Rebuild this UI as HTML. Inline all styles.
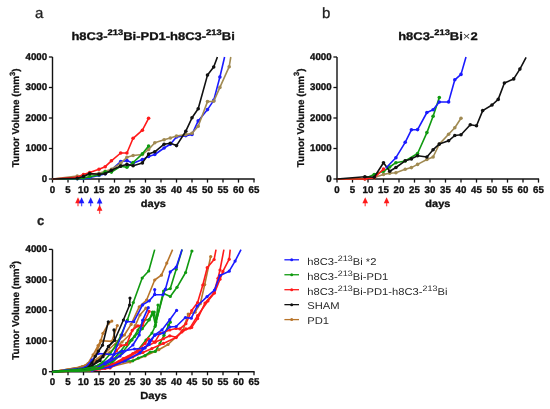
<!DOCTYPE html>
<html><head><meta charset="utf-8"><style>
html,body{margin:0;padding:0;background:#fff;}
body{width:550px;height:409px;overflow:hidden;position:relative;}
svg{position:absolute;left:0;top:0;}
text{text-rendering:geometricPrecision;}
.tl{font-family:"Liberation Sans", Arial, sans-serif;font-weight:bold;font-size:9.7px;fill:#111;stroke:#111;stroke-width:0.35px;}
.ttl{font-family:"Liberation Sans", Arial, sans-serif;font-weight:bold;font-size:10.2px;fill:#111;stroke:#111;stroke-width:0.3px;}
.ax{font-family:"Liberation Sans", Arial, sans-serif;font-weight:bold;font-size:9.9px;fill:#111;stroke:#111;stroke-width:0.25px;}
.pl{font-family:"Liberation Sans",Arial,sans-serif;font-size:15px;fill:#222;stroke:#222;stroke-width:0.3px;}
.lg{font-family:"Liberation Sans", Arial, sans-serif;font-size:9.9px;fill:#2a2a2a;}
</style></head><body>
<svg width="550" height="409" viewBox="0 0 550 409">
<text x="35" y="18" class="pl">a</text>
<text x="322" y="18" class="pl">b</text>
<text x="37" y="225.4" class="pl" style="font-size:13px;font-weight:bold">c</text>
<text transform="translate(153.1,39.6) scale(1.16,1)" x="0" y="0" text-anchor="middle" class="ttl" style="font-size:11.2px">h8C3-<tspan dy="-4.2" font-size="8.1">213</tspan><tspan dy="4.2">Bi-PD1-h8C3-</tspan><tspan dy="-4.2" font-size="8.1">213</tspan><tspan dy="4.2">Bi</tspan></text>
<text transform="translate(437.9,39.6) scale(1.16,1)" x="0" y="0" text-anchor="middle" class="ttl" style="font-size:11.2px">h8C3-<tspan dy="-4.2" font-size="8.1">213</tspan><tspan dy="4.2">Bi</tspan><tspan font-weight="normal" stroke-width="0" fill="#333">×</tspan>2</text>
<text transform="translate(19.2,117.8) rotate(-90)" text-anchor="middle" class="ax">Tumor Volume (mm<tspan dy="-4.6" font-size="7.6">3</tspan><tspan dy="4.6">)</tspan></text>
<text transform="translate(303.7,117.8) rotate(-90)" text-anchor="middle" class="ax">Tumor Volume (mm<tspan dy="-4.6" font-size="7.6">3</tspan><tspan dy="4.6">)</tspan></text>
<text transform="translate(19.2,310.3) rotate(-90)" text-anchor="middle" class="ax">Tumor Volume (mm<tspan dy="-4.6" font-size="7.6">3</tspan><tspan dy="4.6">)</tspan></text>
<text transform="translate(153.4,206.9) scale(1.08,1)" text-anchor="middle" class="ttl">days</text>
<text transform="translate(437.9,206.9) scale(1.08,1)" text-anchor="middle" class="ttl">days</text>
<text transform="translate(153.6,399.1) scale(1.1,1)" text-anchor="middle" class="ttl">Days</text>
<line x1="52.5" y1="57.0" x2="52.5" y2="179.7" stroke="#111" stroke-width="1.4"/>
<line x1="51.8" y1="179.0" x2="254.6" y2="179.0" stroke="#111" stroke-width="1.4"/>
<line x1="48.9" y1="179.00" x2="52.5" y2="179.00" stroke="#111" stroke-width="1.3"/>
<text x="47.1" y="181.90" text-anchor="end" class="tl">0</text>
<line x1="48.9" y1="148.50" x2="52.5" y2="148.50" stroke="#111" stroke-width="1.3"/>
<text x="47.1" y="151.40" text-anchor="end" class="tl">1000</text>
<line x1="48.9" y1="118.00" x2="52.5" y2="118.00" stroke="#111" stroke-width="1.3"/>
<text x="47.1" y="120.90" text-anchor="end" class="tl">2000</text>
<line x1="48.9" y1="87.50" x2="52.5" y2="87.50" stroke="#111" stroke-width="1.3"/>
<text x="47.1" y="90.40" text-anchor="end" class="tl">3000</text>
<line x1="48.9" y1="57.00" x2="52.5" y2="57.00" stroke="#111" stroke-width="1.3"/>
<text x="47.1" y="59.90" text-anchor="end" class="tl">4000</text>
<line x1="52.50" y1="179.0" x2="52.50" y2="182.6" stroke="#111" stroke-width="1.3"/>
<text x="52.50" y="192.70" text-anchor="middle" class="tl">0</text>
<line x1="68.00" y1="179.0" x2="68.00" y2="182.6" stroke="#111" stroke-width="1.3"/>
<text x="68.00" y="192.70" text-anchor="middle" class="tl">5</text>
<line x1="83.50" y1="179.0" x2="83.50" y2="182.6" stroke="#111" stroke-width="1.3"/>
<text x="83.50" y="192.70" text-anchor="middle" class="tl">10</text>
<line x1="99.00" y1="179.0" x2="99.00" y2="182.6" stroke="#111" stroke-width="1.3"/>
<text x="99.00" y="192.70" text-anchor="middle" class="tl">15</text>
<line x1="114.50" y1="179.0" x2="114.50" y2="182.6" stroke="#111" stroke-width="1.3"/>
<text x="114.50" y="192.70" text-anchor="middle" class="tl">20</text>
<line x1="130.00" y1="179.0" x2="130.00" y2="182.6" stroke="#111" stroke-width="1.3"/>
<text x="130.00" y="192.70" text-anchor="middle" class="tl">25</text>
<line x1="145.50" y1="179.0" x2="145.50" y2="182.6" stroke="#111" stroke-width="1.3"/>
<text x="145.50" y="192.70" text-anchor="middle" class="tl">30</text>
<line x1="161.00" y1="179.0" x2="161.00" y2="182.6" stroke="#111" stroke-width="1.3"/>
<text x="161.00" y="192.70" text-anchor="middle" class="tl">35</text>
<line x1="176.50" y1="179.0" x2="176.50" y2="182.6" stroke="#111" stroke-width="1.3"/>
<text x="176.50" y="192.70" text-anchor="middle" class="tl">40</text>
<line x1="192.00" y1="179.0" x2="192.00" y2="182.6" stroke="#111" stroke-width="1.3"/>
<text x="192.00" y="192.70" text-anchor="middle" class="tl">45</text>
<line x1="207.50" y1="179.0" x2="207.50" y2="182.6" stroke="#111" stroke-width="1.3"/>
<text x="207.50" y="192.70" text-anchor="middle" class="tl">50</text>
<line x1="223.00" y1="179.0" x2="223.00" y2="182.6" stroke="#111" stroke-width="1.3"/>
<text x="223.00" y="192.70" text-anchor="middle" class="tl">55</text>
<line x1="238.50" y1="179.0" x2="238.50" y2="182.6" stroke="#111" stroke-width="1.3"/>
<text x="238.50" y="192.70" text-anchor="middle" class="tl">60</text>
<line x1="254.00" y1="179.0" x2="254.00" y2="182.6" stroke="#111" stroke-width="1.3"/>
<text x="254.00" y="192.70" text-anchor="middle" class="tl">65</text>
<polyline points="52.5,179.0 77.3,178.8 83.5,178.5 89.7,177.5 99.0,175.5 105.2,173.8 111.4,169.8 120.7,161.6 126.9,160.6 133.1,163.2 142.4,159.6 148.6,156.4 154.8,154.5 164.1,148.0 170.3,144.2 176.5,136.9 185.8,135.6 192.0,134.4 198.2,120.9 207.5,109.6 213.7,100.4 219.9,77.0 224.6,57.0" fill="none" stroke="#1a1aff" stroke-width="1.6" stroke-linejoin="round"/>
<circle cx="77.3" cy="178.8" r="1.8" fill="#1a1aff"/>
<circle cx="83.5" cy="178.5" r="1.8" fill="#1a1aff"/>
<circle cx="89.7" cy="177.5" r="1.8" fill="#1a1aff"/>
<circle cx="99.0" cy="175.5" r="1.8" fill="#1a1aff"/>
<circle cx="105.2" cy="173.8" r="1.8" fill="#1a1aff"/>
<circle cx="111.4" cy="169.8" r="1.8" fill="#1a1aff"/>
<circle cx="120.7" cy="161.6" r="1.8" fill="#1a1aff"/>
<circle cx="126.9" cy="160.6" r="1.8" fill="#1a1aff"/>
<circle cx="133.1" cy="163.2" r="1.8" fill="#1a1aff"/>
<circle cx="142.4" cy="159.6" r="1.8" fill="#1a1aff"/>
<circle cx="148.6" cy="156.4" r="1.8" fill="#1a1aff"/>
<circle cx="154.8" cy="154.5" r="1.8" fill="#1a1aff"/>
<circle cx="164.1" cy="148.0" r="1.8" fill="#1a1aff"/>
<circle cx="170.3" cy="144.2" r="1.8" fill="#1a1aff"/>
<circle cx="176.5" cy="136.9" r="1.8" fill="#1a1aff"/>
<circle cx="185.8" cy="135.6" r="1.8" fill="#1a1aff"/>
<circle cx="192.0" cy="134.4" r="1.8" fill="#1a1aff"/>
<circle cx="198.2" cy="120.9" r="1.8" fill="#1a1aff"/>
<circle cx="207.5" cy="109.6" r="1.8" fill="#1a1aff"/>
<circle cx="213.7" cy="100.4" r="1.8" fill="#1a1aff"/>
<circle cx="219.9" cy="77.0" r="1.8" fill="#1a1aff"/>
<polyline points="52.5,179.0 77.3,176.1 83.5,175.4 89.7,174.4 99.0,173.2 105.2,171.2 111.4,169.2 120.7,163.4 126.9,157.3 133.1,155.5 142.4,154.5 148.6,149.5 154.8,142.7 164.1,139.7 170.3,138.0 176.5,136.0 185.8,134.6 192.0,133.2 198.2,126.3 207.5,101.6 213.7,101.3 219.9,87.4 229.2,66.7 230.8,57.0" fill="none" stroke="#a08a52" stroke-width="1.6" stroke-linejoin="round"/>
<circle cx="77.3" cy="176.1" r="1.8" fill="#a08a52"/>
<circle cx="83.5" cy="175.4" r="1.8" fill="#a08a52"/>
<circle cx="89.7" cy="174.4" r="1.8" fill="#a08a52"/>
<circle cx="99.0" cy="173.2" r="1.8" fill="#a08a52"/>
<circle cx="105.2" cy="171.2" r="1.8" fill="#a08a52"/>
<circle cx="111.4" cy="169.2" r="1.8" fill="#a08a52"/>
<circle cx="120.7" cy="163.4" r="1.8" fill="#a08a52"/>
<circle cx="126.9" cy="157.3" r="1.8" fill="#a08a52"/>
<circle cx="133.1" cy="155.5" r="1.8" fill="#a08a52"/>
<circle cx="142.4" cy="154.5" r="1.8" fill="#a08a52"/>
<circle cx="148.6" cy="149.5" r="1.8" fill="#a08a52"/>
<circle cx="154.8" cy="142.7" r="1.8" fill="#a08a52"/>
<circle cx="164.1" cy="139.7" r="1.8" fill="#a08a52"/>
<circle cx="170.3" cy="138.0" r="1.8" fill="#a08a52"/>
<circle cx="176.5" cy="136.0" r="1.8" fill="#a08a52"/>
<circle cx="185.8" cy="134.6" r="1.8" fill="#a08a52"/>
<circle cx="192.0" cy="133.2" r="1.8" fill="#a08a52"/>
<circle cx="198.2" cy="126.3" r="1.8" fill="#a08a52"/>
<circle cx="207.5" cy="101.6" r="1.8" fill="#a08a52"/>
<circle cx="213.7" cy="101.3" r="1.8" fill="#a08a52"/>
<circle cx="219.9" cy="87.4" r="1.8" fill="#a08a52"/>
<circle cx="229.2" cy="66.7" r="1.8" fill="#a08a52"/>
<polyline points="52.5,179.0 77.3,178.6 83.5,178.0 89.7,176.6 99.0,175.0 105.2,171.9 111.4,172.1 120.7,166.2 126.9,167.3 133.1,162.5 142.4,153.8 148.6,146.1" fill="none" stroke="#109a10" stroke-width="1.6" stroke-linejoin="round"/>
<circle cx="77.3" cy="178.6" r="1.8" fill="#109a10"/>
<circle cx="83.5" cy="178.0" r="1.8" fill="#109a10"/>
<circle cx="89.7" cy="176.6" r="1.8" fill="#109a10"/>
<circle cx="99.0" cy="175.0" r="1.8" fill="#109a10"/>
<circle cx="105.2" cy="171.9" r="1.8" fill="#109a10"/>
<circle cx="111.4" cy="172.1" r="1.8" fill="#109a10"/>
<circle cx="120.7" cy="166.2" r="1.8" fill="#109a10"/>
<circle cx="126.9" cy="167.3" r="1.8" fill="#109a10"/>
<circle cx="133.1" cy="162.5" r="1.8" fill="#109a10"/>
<circle cx="142.4" cy="153.8" r="1.8" fill="#109a10"/>
<circle cx="148.6" cy="146.1" r="1.8" fill="#109a10"/>
<polyline points="52.5,179.0 77.3,177.4 83.5,174.5 89.7,172.6 99.0,169.3 105.2,166.7 111.4,160.8 120.7,153.0 126.9,153.0 133.1,138.3 142.4,130.2 148.6,118.3" fill="none" stroke="#ff1a1a" stroke-width="1.6" stroke-linejoin="round"/>
<circle cx="77.3" cy="177.4" r="1.8" fill="#ff1a1a"/>
<circle cx="83.5" cy="174.5" r="1.8" fill="#ff1a1a"/>
<circle cx="89.7" cy="172.6" r="1.8" fill="#ff1a1a"/>
<circle cx="99.0" cy="169.3" r="1.8" fill="#ff1a1a"/>
<circle cx="105.2" cy="166.7" r="1.8" fill="#ff1a1a"/>
<circle cx="111.4" cy="160.8" r="1.8" fill="#ff1a1a"/>
<circle cx="120.7" cy="153.0" r="1.8" fill="#ff1a1a"/>
<circle cx="126.9" cy="153.0" r="1.8" fill="#ff1a1a"/>
<circle cx="133.1" cy="138.3" r="1.8" fill="#ff1a1a"/>
<circle cx="142.4" cy="130.2" r="1.8" fill="#ff1a1a"/>
<circle cx="148.6" cy="118.3" r="1.8" fill="#ff1a1a"/>
<polyline points="52.5,179.0 77.3,178.2 83.5,176.4 89.7,173.6 99.0,174.2 105.2,173.7 111.4,170.3 120.7,166.1 126.9,164.4 133.1,165.7 142.4,162.9 148.6,154.1 154.8,151.8 164.1,144.2 170.3,143.3 176.5,145.6 185.8,131.2 192.0,117.8 198.2,108.7 207.5,75.1 213.7,67.0 217.4,57.0" fill="none" stroke="#111" stroke-width="1.6" stroke-linejoin="round"/>
<circle cx="77.3" cy="178.2" r="1.8" fill="#111"/>
<circle cx="83.5" cy="176.4" r="1.8" fill="#111"/>
<circle cx="89.7" cy="173.6" r="1.8" fill="#111"/>
<circle cx="99.0" cy="174.2" r="1.8" fill="#111"/>
<circle cx="105.2" cy="173.7" r="1.8" fill="#111"/>
<circle cx="111.4" cy="170.3" r="1.8" fill="#111"/>
<circle cx="120.7" cy="166.1" r="1.8" fill="#111"/>
<circle cx="126.9" cy="164.4" r="1.8" fill="#111"/>
<circle cx="133.1" cy="165.7" r="1.8" fill="#111"/>
<circle cx="142.4" cy="162.9" r="1.8" fill="#111"/>
<circle cx="148.6" cy="154.1" r="1.8" fill="#111"/>
<circle cx="154.8" cy="151.8" r="1.8" fill="#111"/>
<circle cx="164.1" cy="144.2" r="1.8" fill="#111"/>
<circle cx="170.3" cy="143.3" r="1.8" fill="#111"/>
<circle cx="176.5" cy="145.6" r="1.8" fill="#111"/>
<circle cx="185.8" cy="131.2" r="1.8" fill="#111"/>
<circle cx="192.0" cy="117.8" r="1.8" fill="#111"/>
<circle cx="198.2" cy="108.7" r="1.8" fill="#111"/>
<circle cx="207.5" cy="75.1" r="1.8" fill="#111"/>
<circle cx="213.7" cy="67.0" r="1.8" fill="#111"/>
<path d="M75.2,203.3 L78.0,197.3 L80.8,203.3 Z" fill="#ff1a1a"/>
<line x1="78.0" y1="202.3" x2="78.0" y2="206.3" stroke="#ff1a1a" stroke-width="1.3" opacity="0.75"/>
<path d="M78.8,203.3 L81.6,197.3 L84.4,203.3 Z" fill="#1a1aff"/>
<line x1="81.6" y1="202.3" x2="81.6" y2="206.3" stroke="#1a1aff" stroke-width="1.3" opacity="0.75"/>
<path d="M87.9,203.3 L90.7,197.3 L93.5,203.3 Z" fill="#1a1aff"/>
<line x1="90.7" y1="202.3" x2="90.7" y2="206.3" stroke="#1a1aff" stroke-width="1.3" opacity="0.75"/>
<path d="M96.8,203.5 L99.6,197.5 L102.4,203.5 Z" fill="#1a1aff"/>
<line x1="99.6" y1="202.5" x2="99.6" y2="206.5" stroke="#1a1aff" stroke-width="1.3" opacity="0.75"/>
<path d="M96.8,210.8 L99.6,204.8 L102.4,210.8 Z" fill="#ff1a1a"/>
<line x1="99.6" y1="209.8" x2="99.6" y2="213.8" stroke="#ff1a1a" stroke-width="1.3" opacity="0.75"/>
<line x1="337.0" y1="57.0" x2="337.0" y2="179.7" stroke="#111" stroke-width="1.4"/>
<line x1="336.3" y1="179.0" x2="539.1" y2="179.0" stroke="#111" stroke-width="1.4"/>
<line x1="333.4" y1="179.00" x2="337.0" y2="179.00" stroke="#111" stroke-width="1.3"/>
<text x="331.6" y="181.90" text-anchor="end" class="tl">0</text>
<line x1="333.4" y1="148.50" x2="337.0" y2="148.50" stroke="#111" stroke-width="1.3"/>
<text x="331.6" y="151.40" text-anchor="end" class="tl">1000</text>
<line x1="333.4" y1="118.00" x2="337.0" y2="118.00" stroke="#111" stroke-width="1.3"/>
<text x="331.6" y="120.90" text-anchor="end" class="tl">2000</text>
<line x1="333.4" y1="87.50" x2="337.0" y2="87.50" stroke="#111" stroke-width="1.3"/>
<text x="331.6" y="90.40" text-anchor="end" class="tl">3000</text>
<line x1="333.4" y1="57.00" x2="337.0" y2="57.00" stroke="#111" stroke-width="1.3"/>
<text x="331.6" y="59.90" text-anchor="end" class="tl">4000</text>
<line x1="337.00" y1="179.0" x2="337.00" y2="182.6" stroke="#111" stroke-width="1.3"/>
<text x="337.00" y="192.70" text-anchor="middle" class="tl">0</text>
<line x1="352.50" y1="179.0" x2="352.50" y2="182.6" stroke="#111" stroke-width="1.3"/>
<text x="352.50" y="192.70" text-anchor="middle" class="tl">5</text>
<line x1="368.00" y1="179.0" x2="368.00" y2="182.6" stroke="#111" stroke-width="1.3"/>
<text x="368.00" y="192.70" text-anchor="middle" class="tl">10</text>
<line x1="383.50" y1="179.0" x2="383.50" y2="182.6" stroke="#111" stroke-width="1.3"/>
<text x="383.50" y="192.70" text-anchor="middle" class="tl">15</text>
<line x1="399.00" y1="179.0" x2="399.00" y2="182.6" stroke="#111" stroke-width="1.3"/>
<text x="399.00" y="192.70" text-anchor="middle" class="tl">20</text>
<line x1="414.50" y1="179.0" x2="414.50" y2="182.6" stroke="#111" stroke-width="1.3"/>
<text x="414.50" y="192.70" text-anchor="middle" class="tl">25</text>
<line x1="430.00" y1="179.0" x2="430.00" y2="182.6" stroke="#111" stroke-width="1.3"/>
<text x="430.00" y="192.70" text-anchor="middle" class="tl">30</text>
<line x1="445.50" y1="179.0" x2="445.50" y2="182.6" stroke="#111" stroke-width="1.3"/>
<text x="445.50" y="192.70" text-anchor="middle" class="tl">35</text>
<line x1="461.00" y1="179.0" x2="461.00" y2="182.6" stroke="#111" stroke-width="1.3"/>
<text x="461.00" y="192.70" text-anchor="middle" class="tl">40</text>
<line x1="476.50" y1="179.0" x2="476.50" y2="182.6" stroke="#111" stroke-width="1.3"/>
<text x="476.50" y="192.70" text-anchor="middle" class="tl">45</text>
<line x1="492.00" y1="179.0" x2="492.00" y2="182.6" stroke="#111" stroke-width="1.3"/>
<text x="492.00" y="192.70" text-anchor="middle" class="tl">50</text>
<line x1="507.50" y1="179.0" x2="507.50" y2="182.6" stroke="#111" stroke-width="1.3"/>
<text x="507.50" y="192.70" text-anchor="middle" class="tl">55</text>
<line x1="523.00" y1="179.0" x2="523.00" y2="182.6" stroke="#111" stroke-width="1.3"/>
<text x="523.00" y="192.70" text-anchor="middle" class="tl">60</text>
<line x1="538.50" y1="179.0" x2="538.50" y2="182.6" stroke="#111" stroke-width="1.3"/>
<text x="538.50" y="192.70" text-anchor="middle" class="tl">65</text>
<polyline points="337.0,179.0 364.9,178.6 374.2,177.6 383.5,174.4 389.7,173.3 395.9,172.7 405.2,169.3 411.4,167.6 417.6,164.4 426.9,159.5 433.1,157.0 439.3,144.1 448.6,134.3 454.8,127.7 461.0,118.2" fill="none" stroke="#a08a52" stroke-width="1.6" stroke-linejoin="round"/>
<circle cx="364.9" cy="178.6" r="1.8" fill="#a08a52"/>
<circle cx="374.2" cy="177.6" r="1.8" fill="#a08a52"/>
<circle cx="383.5" cy="174.4" r="1.8" fill="#a08a52"/>
<circle cx="389.7" cy="173.3" r="1.8" fill="#a08a52"/>
<circle cx="395.9" cy="172.7" r="1.8" fill="#a08a52"/>
<circle cx="405.2" cy="169.3" r="1.8" fill="#a08a52"/>
<circle cx="411.4" cy="167.6" r="1.8" fill="#a08a52"/>
<circle cx="417.6" cy="164.4" r="1.8" fill="#a08a52"/>
<circle cx="426.9" cy="159.5" r="1.8" fill="#a08a52"/>
<circle cx="433.1" cy="157.0" r="1.8" fill="#a08a52"/>
<circle cx="439.3" cy="144.1" r="1.8" fill="#a08a52"/>
<circle cx="448.6" cy="134.3" r="1.8" fill="#a08a52"/>
<circle cx="454.8" cy="127.7" r="1.8" fill="#a08a52"/>
<circle cx="461.0" cy="118.2" r="1.8" fill="#a08a52"/>
<polyline points="337.0,179.0 364.9,178.6 374.2,174.6 383.5,171.3 389.7,167.0 395.9,162.7 405.2,161.0 417.6,153.5 426.9,132.6 433.1,116.2 439.3,97.6" fill="none" stroke="#109a10" stroke-width="1.6" stroke-linejoin="round"/>
<circle cx="364.9" cy="178.6" r="1.8" fill="#109a10"/>
<circle cx="374.2" cy="174.6" r="1.8" fill="#109a10"/>
<circle cx="383.5" cy="171.3" r="1.8" fill="#109a10"/>
<circle cx="389.7" cy="167.0" r="1.8" fill="#109a10"/>
<circle cx="395.9" cy="162.7" r="1.8" fill="#109a10"/>
<circle cx="405.2" cy="161.0" r="1.8" fill="#109a10"/>
<circle cx="417.6" cy="153.5" r="1.8" fill="#109a10"/>
<circle cx="426.9" cy="132.6" r="1.8" fill="#109a10"/>
<circle cx="433.1" cy="116.2" r="1.8" fill="#109a10"/>
<circle cx="439.3" cy="97.6" r="1.8" fill="#109a10"/>
<polyline points="337.0,179.0 364.9,178.9 374.2,177.7 383.5,169.1" fill="none" stroke="#ff1a1a" stroke-width="1.6" stroke-linejoin="round"/>
<circle cx="364.9" cy="178.9" r="1.8" fill="#ff1a1a"/>
<circle cx="374.2" cy="177.7" r="1.8" fill="#ff1a1a"/>
<circle cx="383.5" cy="169.1" r="1.8" fill="#ff1a1a"/>
<polyline points="337.0,179.0 364.9,176.8 374.2,177.3 383.5,162.7 389.7,171.3 395.9,167.5 405.2,160.8 411.4,158.9 417.6,155.8 426.9,157.0 433.1,149.7 439.3,144.1 448.6,140.8 454.8,135.5 461.0,134.7 470.3,124.7 476.5,125.8 482.7,110.6 492.0,105.0 498.2,99.4 504.4,83.0 513.7,78.9 519.9,69.1 526.1,57.3" fill="none" stroke="#111" stroke-width="1.6" stroke-linejoin="round"/>
<circle cx="364.9" cy="176.8" r="1.8" fill="#111"/>
<circle cx="374.2" cy="177.3" r="1.8" fill="#111"/>
<circle cx="383.5" cy="162.7" r="1.8" fill="#111"/>
<circle cx="389.7" cy="171.3" r="1.8" fill="#111"/>
<circle cx="395.9" cy="167.5" r="1.8" fill="#111"/>
<circle cx="405.2" cy="160.8" r="1.8" fill="#111"/>
<circle cx="411.4" cy="158.9" r="1.8" fill="#111"/>
<circle cx="417.6" cy="155.8" r="1.8" fill="#111"/>
<circle cx="426.9" cy="157.0" r="1.8" fill="#111"/>
<circle cx="433.1" cy="149.7" r="1.8" fill="#111"/>
<circle cx="439.3" cy="144.1" r="1.8" fill="#111"/>
<circle cx="448.6" cy="140.8" r="1.8" fill="#111"/>
<circle cx="454.8" cy="135.5" r="1.8" fill="#111"/>
<circle cx="461.0" cy="134.7" r="1.8" fill="#111"/>
<circle cx="470.3" cy="124.7" r="1.8" fill="#111"/>
<circle cx="476.5" cy="125.8" r="1.8" fill="#111"/>
<circle cx="482.7" cy="110.6" r="1.8" fill="#111"/>
<circle cx="492.0" cy="105.0" r="1.8" fill="#111"/>
<circle cx="498.2" cy="99.4" r="1.8" fill="#111"/>
<circle cx="504.4" cy="83.0" r="1.8" fill="#111"/>
<circle cx="513.7" cy="78.9" r="1.8" fill="#111"/>
<circle cx="519.9" cy="69.1" r="1.8" fill="#111"/>
<polyline points="385.7,168.3 395.9,157.7 405.2,142.3 411.4,129.8 417.6,129.6 426.9,112.5 433.1,109.8 439.3,102.0 448.6,101.9 454.8,79.8 461.0,74.4 466.0,57.0" fill="none" stroke="#1a1aff" stroke-width="1.6" stroke-linejoin="round"/>
<circle cx="395.9" cy="157.7" r="1.8" fill="#1a1aff"/>
<circle cx="405.2" cy="142.3" r="1.8" fill="#1a1aff"/>
<circle cx="411.4" cy="129.8" r="1.8" fill="#1a1aff"/>
<circle cx="417.6" cy="129.6" r="1.8" fill="#1a1aff"/>
<circle cx="426.9" cy="112.5" r="1.8" fill="#1a1aff"/>
<circle cx="433.1" cy="109.8" r="1.8" fill="#1a1aff"/>
<circle cx="439.3" cy="102.0" r="1.8" fill="#1a1aff"/>
<circle cx="448.6" cy="101.9" r="1.8" fill="#1a1aff"/>
<circle cx="454.8" cy="79.8" r="1.8" fill="#1a1aff"/>
<circle cx="461.0" cy="74.4" r="1.8" fill="#1a1aff"/>
<path d="M362.4,203.3 L365.2,197.3 L368.0,203.3 Z" fill="#ff1a1a"/>
<line x1="365.2" y1="202.3" x2="365.2" y2="206.3" stroke="#ff1a1a" stroke-width="1.3" opacity="0.75"/>
<path d="M383.8,203.3 L386.6,197.3 L389.4,203.3 Z" fill="#ff1a1a"/>
<line x1="386.6" y1="202.3" x2="386.6" y2="206.3" stroke="#ff1a1a" stroke-width="1.3" opacity="0.75"/>
<line x1="52.5" y1="249.4" x2="52.5" y2="372.4" stroke="#111" stroke-width="1.4"/>
<line x1="51.8" y1="371.7" x2="254.6" y2="371.7" stroke="#111" stroke-width="1.4"/>
<line x1="48.9" y1="371.70" x2="52.5" y2="371.70" stroke="#111" stroke-width="1.3"/>
<text x="47.1" y="374.60" text-anchor="end" class="tl">0</text>
<line x1="48.9" y1="341.12" x2="52.5" y2="341.12" stroke="#111" stroke-width="1.3"/>
<text x="47.1" y="344.02" text-anchor="end" class="tl">1000</text>
<line x1="48.9" y1="310.55" x2="52.5" y2="310.55" stroke="#111" stroke-width="1.3"/>
<text x="47.1" y="313.45" text-anchor="end" class="tl">2000</text>
<line x1="48.9" y1="279.98" x2="52.5" y2="279.98" stroke="#111" stroke-width="1.3"/>
<text x="47.1" y="282.88" text-anchor="end" class="tl">3000</text>
<line x1="48.9" y1="249.40" x2="52.5" y2="249.40" stroke="#111" stroke-width="1.3"/>
<text x="47.1" y="252.30" text-anchor="end" class="tl">4000</text>
<line x1="52.50" y1="371.7" x2="52.50" y2="375.3" stroke="#111" stroke-width="1.3"/>
<text x="52.50" y="385.40" text-anchor="middle" class="tl">0</text>
<line x1="68.00" y1="371.7" x2="68.00" y2="375.3" stroke="#111" stroke-width="1.3"/>
<text x="68.00" y="385.40" text-anchor="middle" class="tl">5</text>
<line x1="83.50" y1="371.7" x2="83.50" y2="375.3" stroke="#111" stroke-width="1.3"/>
<text x="83.50" y="385.40" text-anchor="middle" class="tl">10</text>
<line x1="99.00" y1="371.7" x2="99.00" y2="375.3" stroke="#111" stroke-width="1.3"/>
<text x="99.00" y="385.40" text-anchor="middle" class="tl">15</text>
<line x1="114.50" y1="371.7" x2="114.50" y2="375.3" stroke="#111" stroke-width="1.3"/>
<text x="114.50" y="385.40" text-anchor="middle" class="tl">20</text>
<line x1="130.00" y1="371.7" x2="130.00" y2="375.3" stroke="#111" stroke-width="1.3"/>
<text x="130.00" y="385.40" text-anchor="middle" class="tl">25</text>
<line x1="145.50" y1="371.7" x2="145.50" y2="375.3" stroke="#111" stroke-width="1.3"/>
<text x="145.50" y="385.40" text-anchor="middle" class="tl">30</text>
<line x1="161.00" y1="371.7" x2="161.00" y2="375.3" stroke="#111" stroke-width="1.3"/>
<text x="161.00" y="385.40" text-anchor="middle" class="tl">35</text>
<line x1="176.50" y1="371.7" x2="176.50" y2="375.3" stroke="#111" stroke-width="1.3"/>
<text x="176.50" y="385.40" text-anchor="middle" class="tl">40</text>
<line x1="192.00" y1="371.7" x2="192.00" y2="375.3" stroke="#111" stroke-width="1.3"/>
<text x="192.00" y="385.40" text-anchor="middle" class="tl">45</text>
<line x1="207.50" y1="371.7" x2="207.50" y2="375.3" stroke="#111" stroke-width="1.3"/>
<text x="207.50" y="385.40" text-anchor="middle" class="tl">50</text>
<line x1="223.00" y1="371.7" x2="223.00" y2="375.3" stroke="#111" stroke-width="1.3"/>
<text x="223.00" y="385.40" text-anchor="middle" class="tl">55</text>
<line x1="238.50" y1="371.7" x2="238.50" y2="375.3" stroke="#111" stroke-width="1.3"/>
<text x="238.50" y="385.40" text-anchor="middle" class="tl">60</text>
<line x1="254.00" y1="371.7" x2="254.00" y2="375.3" stroke="#111" stroke-width="1.3"/>
<text x="254.00" y="385.40" text-anchor="middle" class="tl">65</text>
<polyline points="52.5,371.7 80.0,367.4 92.0,362.4 105.0,353.0 118.0,341.0 124.4,335.0 131.1,324.4 139.2,306.9 146.6,300.0 154.7,280.0 161.4,275.2 166.8,263.1 172.6,249.6" fill="none" stroke="#b8752b" stroke-width="1.6" stroke-linejoin="round"/>
<circle cx="80.0" cy="367.4" r="1.6" fill="#b8752b"/>
<circle cx="92.0" cy="362.4" r="1.6" fill="#b8752b"/>
<circle cx="105.0" cy="353.0" r="1.6" fill="#b8752b"/>
<circle cx="118.0" cy="341.0" r="1.6" fill="#b8752b"/>
<circle cx="124.4" cy="335.0" r="1.6" fill="#b8752b"/>
<circle cx="131.1" cy="324.4" r="1.6" fill="#b8752b"/>
<circle cx="139.2" cy="306.9" r="1.6" fill="#b8752b"/>
<circle cx="146.6" cy="300.0" r="1.6" fill="#b8752b"/>
<circle cx="154.7" cy="280.0" r="1.6" fill="#b8752b"/>
<circle cx="161.4" cy="275.2" r="1.6" fill="#b8752b"/>
<circle cx="166.8" cy="263.1" r="1.6" fill="#b8752b"/>
<polyline points="52.5,371.7 82.0,366.7 95.0,361.3 110.0,352.0 122.0,342.0 130.5,334.0 135.2,325.7 139.9,315.0 145.9,308.2" fill="none" stroke="#b8752b" stroke-width="1.6" stroke-linejoin="round"/>
<circle cx="82.0" cy="366.7" r="1.6" fill="#b8752b"/>
<circle cx="95.0" cy="361.3" r="1.6" fill="#b8752b"/>
<circle cx="110.0" cy="352.0" r="1.6" fill="#b8752b"/>
<circle cx="122.0" cy="342.0" r="1.6" fill="#b8752b"/>
<circle cx="130.5" cy="334.0" r="1.6" fill="#b8752b"/>
<circle cx="135.2" cy="325.7" r="1.6" fill="#b8752b"/>
<circle cx="139.9" cy="315.0" r="1.6" fill="#b8752b"/>
<circle cx="145.9" cy="308.2" r="1.6" fill="#b8752b"/>
<polyline points="52.5,371.7 80.0,367.7 88.0,363.5 93.1,354.8 98.1,345.6 100.8,340.6 103.0,333.3 108.5,323.3 111.8,321.1" fill="none" stroke="#b8752b" stroke-width="1.6" stroke-linejoin="round"/>
<circle cx="80.0" cy="367.7" r="1.6" fill="#b8752b"/>
<circle cx="88.0" cy="363.5" r="1.6" fill="#b8752b"/>
<circle cx="93.1" cy="354.8" r="1.6" fill="#b8752b"/>
<circle cx="98.1" cy="345.6" r="1.6" fill="#b8752b"/>
<circle cx="100.8" cy="340.6" r="1.6" fill="#b8752b"/>
<circle cx="103.0" cy="333.3" r="1.6" fill="#b8752b"/>
<circle cx="108.5" cy="323.3" r="1.6" fill="#b8752b"/>
<circle cx="111.8" cy="321.1" r="1.6" fill="#b8752b"/>
<polyline points="52.5,371.7 85.0,366.9 93.0,361.0 97.0,350.6 101.4,340.7 111.8,341.4 117.3,325.5" fill="none" stroke="#b8752b" stroke-width="1.6" stroke-linejoin="round"/>
<circle cx="85.0" cy="366.9" r="1.6" fill="#b8752b"/>
<circle cx="93.0" cy="361.0" r="1.6" fill="#b8752b"/>
<circle cx="97.0" cy="350.6" r="1.6" fill="#b8752b"/>
<circle cx="101.4" cy="340.7" r="1.6" fill="#b8752b"/>
<circle cx="111.8" cy="341.4" r="1.6" fill="#b8752b"/>
<circle cx="117.3" cy="325.5" r="1.6" fill="#b8752b"/>
<polyline points="52.5,371.7 90.0,369.9 110.0,367.0 130.0,362.0 145.0,356.0 158.8,349.7 168.0,344.5 182.9,330.7 188.2,314.0 195.1,312.2 200.3,303.7 204.7,284.6 210.7,256.5" fill="none" stroke="#b8752b" stroke-width="1.6" stroke-linejoin="round"/>
<circle cx="90.0" cy="369.9" r="1.6" fill="#b8752b"/>
<circle cx="110.0" cy="367.0" r="1.6" fill="#b8752b"/>
<circle cx="130.0" cy="362.0" r="1.6" fill="#b8752b"/>
<circle cx="145.0" cy="356.0" r="1.6" fill="#b8752b"/>
<circle cx="158.8" cy="349.7" r="1.6" fill="#b8752b"/>
<circle cx="168.0" cy="344.5" r="1.6" fill="#b8752b"/>
<circle cx="182.9" cy="330.7" r="1.6" fill="#b8752b"/>
<circle cx="188.2" cy="314.0" r="1.6" fill="#b8752b"/>
<circle cx="195.1" cy="312.2" r="1.6" fill="#b8752b"/>
<circle cx="200.3" cy="303.7" r="1.6" fill="#b8752b"/>
<circle cx="204.7" cy="284.6" r="1.6" fill="#b8752b"/>
<circle cx="210.7" cy="256.5" r="1.6" fill="#b8752b"/>
<polyline points="52.5,371.7 83.5,368.9 95.0,366.9 103.0,362.2 110.0,354.0 116.0,345.0 121.0,335.0 127.4,320.0 133.3,302.5 142.2,278.0 148.7,271.0 154.7,249.6" fill="none" stroke="#109a10" stroke-width="1.6" stroke-linejoin="round"/>
<circle cx="83.5" cy="368.9" r="1.6" fill="#109a10"/>
<circle cx="95.0" cy="366.9" r="1.6" fill="#109a10"/>
<circle cx="103.0" cy="362.2" r="1.6" fill="#109a10"/>
<circle cx="110.0" cy="354.0" r="1.6" fill="#109a10"/>
<circle cx="116.0" cy="345.0" r="1.6" fill="#109a10"/>
<circle cx="121.0" cy="335.0" r="1.6" fill="#109a10"/>
<circle cx="127.4" cy="320.0" r="1.6" fill="#109a10"/>
<circle cx="133.3" cy="302.5" r="1.6" fill="#109a10"/>
<circle cx="142.2" cy="278.0" r="1.6" fill="#109a10"/>
<circle cx="148.7" cy="271.0" r="1.6" fill="#109a10"/>
<polyline points="52.5,371.7 85.0,370.2 100.0,368.2 115.0,364.0 128.0,358.0 138.0,350.0 146.0,340.0 152.0,333.0 155.0,326.5 163.6,291.0 170.3,288.6 176.2,269.2 182.2,249.6" fill="none" stroke="#109a10" stroke-width="1.6" stroke-linejoin="round"/>
<circle cx="85.0" cy="370.2" r="1.6" fill="#109a10"/>
<circle cx="100.0" cy="368.2" r="1.6" fill="#109a10"/>
<circle cx="115.0" cy="364.0" r="1.6" fill="#109a10"/>
<circle cx="128.0" cy="358.0" r="1.6" fill="#109a10"/>
<circle cx="138.0" cy="350.0" r="1.6" fill="#109a10"/>
<circle cx="146.0" cy="340.0" r="1.6" fill="#109a10"/>
<circle cx="152.0" cy="333.0" r="1.6" fill="#109a10"/>
<circle cx="155.0" cy="326.5" r="1.6" fill="#109a10"/>
<circle cx="163.6" cy="291.0" r="1.6" fill="#109a10"/>
<circle cx="170.3" cy="288.6" r="1.6" fill="#109a10"/>
<circle cx="176.2" cy="269.2" r="1.6" fill="#109a10"/>
<polyline points="52.5,371.7 85.0,370.5 100.0,368.6 112.0,363.0 122.0,353.0 132.0,340.0 138.0,330.0 143.9,320.2 149.1,319.5 154.2,312.1 156.0,322.0 163.6,293.5 170.3,296.5 177.0,287.3 185.6,272.5 191.9,251.0" fill="none" stroke="#109a10" stroke-width="1.6" stroke-linejoin="round"/>
<circle cx="85.0" cy="370.5" r="1.6" fill="#109a10"/>
<circle cx="100.0" cy="368.6" r="1.6" fill="#109a10"/>
<circle cx="112.0" cy="363.0" r="1.6" fill="#109a10"/>
<circle cx="122.0" cy="353.0" r="1.6" fill="#109a10"/>
<circle cx="132.0" cy="340.0" r="1.6" fill="#109a10"/>
<circle cx="138.0" cy="330.0" r="1.6" fill="#109a10"/>
<circle cx="143.9" cy="320.2" r="1.6" fill="#109a10"/>
<circle cx="149.1" cy="319.5" r="1.6" fill="#109a10"/>
<circle cx="154.2" cy="312.1" r="1.6" fill="#109a10"/>
<circle cx="156.0" cy="322.0" r="1.6" fill="#109a10"/>
<circle cx="163.6" cy="293.5" r="1.6" fill="#109a10"/>
<circle cx="170.3" cy="296.5" r="1.6" fill="#109a10"/>
<circle cx="177.0" cy="287.3" r="1.6" fill="#109a10"/>
<circle cx="185.6" cy="272.5" r="1.6" fill="#109a10"/>
<circle cx="191.9" cy="251.0" r="1.6" fill="#109a10"/>
<polyline points="52.5,371.7 90.0,370.6 112.0,365.0 118.7,362.5 123.2,361.3 132.8,360.8 138.4,358.0 145.0,355.5 150.2,352.0 155.3,351.4 160.0,343.4 164.0,335.3 168.6,325.0 170.3,322.2" fill="none" stroke="#109a10" stroke-width="1.6" stroke-linejoin="round"/>
<circle cx="90.0" cy="370.6" r="1.6" fill="#109a10"/>
<circle cx="112.0" cy="365.0" r="1.6" fill="#109a10"/>
<circle cx="118.7" cy="362.5" r="1.6" fill="#109a10"/>
<circle cx="123.2" cy="361.3" r="1.6" fill="#109a10"/>
<circle cx="132.8" cy="360.8" r="1.6" fill="#109a10"/>
<circle cx="138.4" cy="358.0" r="1.6" fill="#109a10"/>
<circle cx="145.0" cy="355.5" r="1.6" fill="#109a10"/>
<circle cx="150.2" cy="352.0" r="1.6" fill="#109a10"/>
<circle cx="155.3" cy="351.4" r="1.6" fill="#109a10"/>
<circle cx="160.0" cy="343.4" r="1.6" fill="#109a10"/>
<circle cx="164.0" cy="335.3" r="1.6" fill="#109a10"/>
<circle cx="168.6" cy="325.0" r="1.6" fill="#109a10"/>
<circle cx="170.3" cy="322.2" r="1.6" fill="#109a10"/>
<polyline points="52.5,371.7 88.0,370.2 100.0,367.7 112.0,361.0 120.0,352.0 126.6,343.3 134.5,336.6 142.3,328.7 149.1,320.0 152.5,312.0 155.5,325.0 158.0,305.0" fill="none" stroke="#109a10" stroke-width="1.6" stroke-linejoin="round"/>
<circle cx="88.0" cy="370.2" r="1.6" fill="#109a10"/>
<circle cx="100.0" cy="367.7" r="1.6" fill="#109a10"/>
<circle cx="112.0" cy="361.0" r="1.6" fill="#109a10"/>
<circle cx="120.0" cy="352.0" r="1.6" fill="#109a10"/>
<circle cx="126.6" cy="343.3" r="1.6" fill="#109a10"/>
<circle cx="134.5" cy="336.6" r="1.6" fill="#109a10"/>
<circle cx="142.3" cy="328.7" r="1.6" fill="#109a10"/>
<circle cx="149.1" cy="320.0" r="1.6" fill="#109a10"/>
<circle cx="152.5" cy="312.0" r="1.6" fill="#109a10"/>
<circle cx="155.5" cy="325.0" r="1.6" fill="#109a10"/>
<circle cx="158.0" cy="305.0" r="1.6" fill="#109a10"/>
<polyline points="52.5,371.7 85.0,369.4 100.0,366.6 112.0,358.0 116.5,350.7 121.0,345.6 126.6,344.5 132.2,330.4 137.8,325.9 142.5,325.3 149.1,311.4" fill="none" stroke="#ff1a1a" stroke-width="1.6" stroke-linejoin="round"/>
<circle cx="85.0" cy="369.4" r="1.6" fill="#ff1a1a"/>
<circle cx="100.0" cy="366.6" r="1.6" fill="#ff1a1a"/>
<circle cx="112.0" cy="358.0" r="1.6" fill="#ff1a1a"/>
<circle cx="116.5" cy="350.7" r="1.6" fill="#ff1a1a"/>
<circle cx="121.0" cy="345.6" r="1.6" fill="#ff1a1a"/>
<circle cx="126.6" cy="344.5" r="1.6" fill="#ff1a1a"/>
<circle cx="132.2" cy="330.4" r="1.6" fill="#ff1a1a"/>
<circle cx="137.8" cy="325.9" r="1.6" fill="#ff1a1a"/>
<circle cx="142.5" cy="325.3" r="1.6" fill="#ff1a1a"/>
<circle cx="149.1" cy="311.4" r="1.6" fill="#ff1a1a"/>
<polyline points="52.5,371.7 88.0,370.2 100.0,368.8 112.0,364.5 123.2,358.5 132.8,353.5 138.0,350.0 145.0,343.4 148.4,338.8 154.8,342.2 160.0,333.4 169.8,330.0 176.1,328.5 180.0,328.9 185.9,323.7 191.7,310.5 197.6,302.5 202.8,285.0 207.2,267.7 214.1,259.5 216.0,249.6" fill="none" stroke="#ff1a1a" stroke-width="1.6" stroke-linejoin="round"/>
<circle cx="88.0" cy="370.2" r="1.6" fill="#ff1a1a"/>
<circle cx="100.0" cy="368.8" r="1.6" fill="#ff1a1a"/>
<circle cx="112.0" cy="364.5" r="1.6" fill="#ff1a1a"/>
<circle cx="123.2" cy="358.5" r="1.6" fill="#ff1a1a"/>
<circle cx="132.8" cy="353.5" r="1.6" fill="#ff1a1a"/>
<circle cx="138.0" cy="350.0" r="1.6" fill="#ff1a1a"/>
<circle cx="145.0" cy="343.4" r="1.6" fill="#ff1a1a"/>
<circle cx="148.4" cy="338.8" r="1.6" fill="#ff1a1a"/>
<circle cx="154.8" cy="342.2" r="1.6" fill="#ff1a1a"/>
<circle cx="160.0" cy="333.4" r="1.6" fill="#ff1a1a"/>
<circle cx="169.8" cy="330.0" r="1.6" fill="#ff1a1a"/>
<circle cx="176.1" cy="328.5" r="1.6" fill="#ff1a1a"/>
<circle cx="180.0" cy="328.9" r="1.6" fill="#ff1a1a"/>
<circle cx="185.9" cy="323.7" r="1.6" fill="#ff1a1a"/>
<circle cx="191.7" cy="310.5" r="1.6" fill="#ff1a1a"/>
<circle cx="197.6" cy="302.5" r="1.6" fill="#ff1a1a"/>
<circle cx="202.8" cy="285.0" r="1.6" fill="#ff1a1a"/>
<circle cx="207.2" cy="267.7" r="1.6" fill="#ff1a1a"/>
<circle cx="214.1" cy="259.5" r="1.6" fill="#ff1a1a"/>
<polyline points="52.5,371.7 90.0,370.5 105.0,368.5 118.7,362.0 128.9,356.5 137.8,352.0 145.0,347.4 155.3,342.0 163.4,338.7 169.8,335.8 176.1,337.3 181.8,331.9 185.9,328.9 191.7,327.4 197.6,318.6 205.0,303.0 213.8,293.0 218.0,278.3 220.0,270.0 223.9,249.6" fill="none" stroke="#ff1a1a" stroke-width="1.6" stroke-linejoin="round"/>
<circle cx="90.0" cy="370.5" r="1.6" fill="#ff1a1a"/>
<circle cx="105.0" cy="368.5" r="1.6" fill="#ff1a1a"/>
<circle cx="118.7" cy="362.0" r="1.6" fill="#ff1a1a"/>
<circle cx="128.9" cy="356.5" r="1.6" fill="#ff1a1a"/>
<circle cx="137.8" cy="352.0" r="1.6" fill="#ff1a1a"/>
<circle cx="145.0" cy="347.4" r="1.6" fill="#ff1a1a"/>
<circle cx="155.3" cy="342.0" r="1.6" fill="#ff1a1a"/>
<circle cx="163.4" cy="338.7" r="1.6" fill="#ff1a1a"/>
<circle cx="169.8" cy="335.8" r="1.6" fill="#ff1a1a"/>
<circle cx="176.1" cy="337.3" r="1.6" fill="#ff1a1a"/>
<circle cx="181.8" cy="331.9" r="1.6" fill="#ff1a1a"/>
<circle cx="185.9" cy="328.9" r="1.6" fill="#ff1a1a"/>
<circle cx="191.7" cy="327.4" r="1.6" fill="#ff1a1a"/>
<circle cx="197.6" cy="318.6" r="1.6" fill="#ff1a1a"/>
<circle cx="205.0" cy="303.0" r="1.6" fill="#ff1a1a"/>
<circle cx="213.8" cy="293.0" r="1.6" fill="#ff1a1a"/>
<circle cx="218.0" cy="278.3" r="1.6" fill="#ff1a1a"/>
<circle cx="220.0" cy="270.0" r="1.6" fill="#ff1a1a"/>
<polyline points="52.5,371.7 92.0,370.6 110.0,368.0 123.2,361.0 132.8,357.0 142.9,352.5 151.9,348.6 163.4,343.4 176.0,337.6 182.9,330.7 190.0,328.0 197.6,315.7 207.9,301.0 214.5,292.9 220.0,279.2 222.9,271.4 229.2,259.2 230.2,249.6" fill="none" stroke="#ff1a1a" stroke-width="1.6" stroke-linejoin="round"/>
<circle cx="92.0" cy="370.6" r="1.6" fill="#ff1a1a"/>
<circle cx="110.0" cy="368.0" r="1.6" fill="#ff1a1a"/>
<circle cx="123.2" cy="361.0" r="1.6" fill="#ff1a1a"/>
<circle cx="132.8" cy="357.0" r="1.6" fill="#ff1a1a"/>
<circle cx="142.9" cy="352.5" r="1.6" fill="#ff1a1a"/>
<circle cx="151.9" cy="348.6" r="1.6" fill="#ff1a1a"/>
<circle cx="163.4" cy="343.4" r="1.6" fill="#ff1a1a"/>
<circle cx="176.0" cy="337.6" r="1.6" fill="#ff1a1a"/>
<circle cx="182.9" cy="330.7" r="1.6" fill="#ff1a1a"/>
<circle cx="190.0" cy="328.0" r="1.6" fill="#ff1a1a"/>
<circle cx="197.6" cy="315.7" r="1.6" fill="#ff1a1a"/>
<circle cx="207.9" cy="301.0" r="1.6" fill="#ff1a1a"/>
<circle cx="214.5" cy="292.9" r="1.6" fill="#ff1a1a"/>
<circle cx="220.0" cy="279.2" r="1.6" fill="#ff1a1a"/>
<circle cx="222.9" cy="271.4" r="1.6" fill="#ff1a1a"/>
<circle cx="229.2" cy="259.2" r="1.6" fill="#ff1a1a"/>
<polyline points="52.5,371.7 85.0,368.7 100.0,365.5 112.0,358.0 121.7,335.0 126.4,321.7 133.8,321.7 142.6,304.9 149.3,300.8 154.7,294.5 154.7,289.5 154.7,294.5 163.0,294.7 165.4,289.2 170.2,271.9 176.2,267.2 182.0,249.6" fill="none" stroke="#1a1aff" stroke-width="1.6" stroke-linejoin="round"/>
<circle cx="85.0" cy="368.7" r="1.6" fill="#1a1aff"/>
<circle cx="100.0" cy="365.5" r="1.6" fill="#1a1aff"/>
<circle cx="112.0" cy="358.0" r="1.6" fill="#1a1aff"/>
<circle cx="121.7" cy="335.0" r="1.6" fill="#1a1aff"/>
<circle cx="126.4" cy="321.7" r="1.6" fill="#1a1aff"/>
<circle cx="133.8" cy="321.7" r="1.6" fill="#1a1aff"/>
<circle cx="142.6" cy="304.9" r="1.6" fill="#1a1aff"/>
<circle cx="149.3" cy="300.8" r="1.6" fill="#1a1aff"/>
<circle cx="154.7" cy="294.5" r="1.6" fill="#1a1aff"/>
<circle cx="154.7" cy="289.5" r="1.6" fill="#1a1aff"/>
<circle cx="154.7" cy="294.5" r="1.6" fill="#1a1aff"/>
<circle cx="163.0" cy="294.7" r="1.6" fill="#1a1aff"/>
<circle cx="165.4" cy="289.2" r="1.6" fill="#1a1aff"/>
<circle cx="170.2" cy="271.9" r="1.6" fill="#1a1aff"/>
<circle cx="176.2" cy="267.2" r="1.6" fill="#1a1aff"/>
<polyline points="52.5,371.7 88.0,368.7 105.0,364.0 120.0,356.0 132.9,345.0 139.2,335.0 142.6,320.3 148.3,307.7" fill="none" stroke="#1a1aff" stroke-width="1.6" stroke-linejoin="round"/>
<circle cx="88.0" cy="368.7" r="1.6" fill="#1a1aff"/>
<circle cx="105.0" cy="364.0" r="1.6" fill="#1a1aff"/>
<circle cx="120.0" cy="356.0" r="1.6" fill="#1a1aff"/>
<circle cx="132.9" cy="345.0" r="1.6" fill="#1a1aff"/>
<circle cx="139.2" cy="335.0" r="1.6" fill="#1a1aff"/>
<circle cx="142.6" cy="320.3" r="1.6" fill="#1a1aff"/>
<circle cx="148.3" cy="307.7" r="1.6" fill="#1a1aff"/>
<polyline points="52.5,371.7 85.0,367.7 92.0,360.2 98.0,353.5 114.0,354.6 122.1,351.2 134.5,349.0 142.9,348.4 149.1,344.5 154.7,334.9 162.0,329.9 169.8,319.7 176.6,310.4" fill="none" stroke="#1a1aff" stroke-width="1.6" stroke-linejoin="round"/>
<circle cx="85.0" cy="367.7" r="1.6" fill="#1a1aff"/>
<circle cx="92.0" cy="360.2" r="1.6" fill="#1a1aff"/>
<circle cx="98.0" cy="353.5" r="1.6" fill="#1a1aff"/>
<circle cx="114.0" cy="354.6" r="1.6" fill="#1a1aff"/>
<circle cx="122.1" cy="351.2" r="1.6" fill="#1a1aff"/>
<circle cx="134.5" cy="349.0" r="1.6" fill="#1a1aff"/>
<circle cx="142.9" cy="348.4" r="1.6" fill="#1a1aff"/>
<circle cx="149.1" cy="344.5" r="1.6" fill="#1a1aff"/>
<circle cx="154.7" cy="334.9" r="1.6" fill="#1a1aff"/>
<circle cx="162.0" cy="329.9" r="1.6" fill="#1a1aff"/>
<circle cx="169.8" cy="319.7" r="1.6" fill="#1a1aff"/>
<circle cx="176.6" cy="310.4" r="1.6" fill="#1a1aff"/>
<polyline points="52.5,371.7 92.0,370.3 110.0,367.0 125.0,361.0 140.0,352.7 145.0,348.0 149.6,341.1 154.8,335.3 163.4,333.0 169.8,327.0 176.1,326.5 185.4,317.5 191.3,318.2 197.2,306.0 207.1,296.6 214.5,290.0 220.0,275.5 229.2,271.2 235.1,261.1 241.0,249.6" fill="none" stroke="#1a1aff" stroke-width="1.6" stroke-linejoin="round"/>
<circle cx="92.0" cy="370.3" r="1.6" fill="#1a1aff"/>
<circle cx="110.0" cy="367.0" r="1.6" fill="#1a1aff"/>
<circle cx="125.0" cy="361.0" r="1.6" fill="#1a1aff"/>
<circle cx="140.0" cy="352.7" r="1.6" fill="#1a1aff"/>
<circle cx="145.0" cy="348.0" r="1.6" fill="#1a1aff"/>
<circle cx="149.6" cy="341.1" r="1.6" fill="#1a1aff"/>
<circle cx="154.8" cy="335.3" r="1.6" fill="#1a1aff"/>
<circle cx="163.4" cy="333.0" r="1.6" fill="#1a1aff"/>
<circle cx="169.8" cy="327.0" r="1.6" fill="#1a1aff"/>
<circle cx="176.1" cy="326.5" r="1.6" fill="#1a1aff"/>
<circle cx="185.4" cy="317.5" r="1.6" fill="#1a1aff"/>
<circle cx="191.3" cy="318.2" r="1.6" fill="#1a1aff"/>
<circle cx="197.2" cy="306.0" r="1.6" fill="#1a1aff"/>
<circle cx="207.1" cy="296.6" r="1.6" fill="#1a1aff"/>
<circle cx="214.5" cy="290.0" r="1.6" fill="#1a1aff"/>
<circle cx="220.0" cy="275.5" r="1.6" fill="#1a1aff"/>
<circle cx="229.2" cy="271.2" r="1.6" fill="#1a1aff"/>
<circle cx="235.1" cy="261.1" r="1.6" fill="#1a1aff"/>
<polyline points="52.5,371.7 77.3,370.2 86.0,368.8 92.0,362.9 95.3,356.3 98.6,351.0 102.5,345.2 108.3,321.8" fill="none" stroke="#111" stroke-width="1.6" stroke-linejoin="round"/>
<circle cx="77.3" cy="370.2" r="1.6" fill="#111"/>
<circle cx="86.0" cy="368.8" r="1.6" fill="#111"/>
<circle cx="92.0" cy="362.9" r="1.6" fill="#111"/>
<circle cx="95.3" cy="356.3" r="1.6" fill="#111"/>
<circle cx="98.6" cy="351.0" r="1.6" fill="#111"/>
<circle cx="102.5" cy="345.2" r="1.6" fill="#111"/>
<circle cx="108.3" cy="321.8" r="1.6" fill="#111"/>
<polyline points="52.5,371.7 80.0,370.0 90.0,366.8 97.0,361.6 103.0,356.7 108.5,346.4 114.6,340.3 114.0,329.9" fill="none" stroke="#111" stroke-width="1.6" stroke-linejoin="round"/>
<circle cx="80.0" cy="370.0" r="1.6" fill="#111"/>
<circle cx="90.0" cy="366.8" r="1.6" fill="#111"/>
<circle cx="97.0" cy="361.6" r="1.6" fill="#111"/>
<circle cx="103.0" cy="356.7" r="1.6" fill="#111"/>
<circle cx="108.5" cy="346.4" r="1.6" fill="#111"/>
<circle cx="114.6" cy="340.3" r="1.6" fill="#111"/>
<circle cx="114.0" cy="329.9" r="1.6" fill="#111"/>
<polyline points="52.5,371.7 83.0,369.7 92.0,365.9 100.0,360.7 108.5,346.4 114.6,340.3 123.4,320.0 129.6,305.0 130.0,298.1" fill="none" stroke="#111" stroke-width="1.6" stroke-linejoin="round"/>
<circle cx="83.0" cy="369.7" r="1.6" fill="#111"/>
<circle cx="92.0" cy="365.9" r="1.6" fill="#111"/>
<circle cx="100.0" cy="360.7" r="1.6" fill="#111"/>
<circle cx="108.5" cy="346.4" r="1.6" fill="#111"/>
<circle cx="114.6" cy="340.3" r="1.6" fill="#111"/>
<circle cx="123.4" cy="320.0" r="1.6" fill="#111"/>
<circle cx="129.6" cy="305.0" r="1.6" fill="#111"/>
<circle cx="130.0" cy="298.1" r="1.6" fill="#111"/>
<polyline points="52.5,371.7 83.5,368.9 95.0,366.9 103.0,362.2" fill="none" stroke="#109a10" stroke-width="1.6" stroke-linejoin="round"/>
<polyline points="52.5,371.7 85.0,370.2 100.0,368.2 104.0,367.1" fill="none" stroke="#109a10" stroke-width="1.6" stroke-linejoin="round"/>
<polyline points="52.5,371.7 85.0,370.5 100.0,368.6 104.0,366.7" fill="none" stroke="#109a10" stroke-width="1.6" stroke-linejoin="round"/>
<polyline points="52.5,371.7 90.0,370.6 104.0,367.0" fill="none" stroke="#109a10" stroke-width="1.6" stroke-linejoin="round"/>
<polyline points="52.5,371.7 88.0,370.2 100.0,367.7 104.0,365.5" fill="none" stroke="#109a10" stroke-width="1.6" stroke-linejoin="round"/>
<line x1="284.4" y1="259.80" x2="299" y2="259.80" stroke="#1a1aff" stroke-width="1.3"/>
<circle cx="291.7" cy="259.80" r="1.5" fill="#1a1aff"/>
<text transform="translate(307.3,264.60) scale(1.135,1)" class="lg">h8C3-<tspan dy="-4" font-size="7.9">213</tspan><tspan dy="4">Bi *2</tspan></text>
<line x1="284.4" y1="274.75" x2="299" y2="274.75" stroke="#109a10" stroke-width="1.3"/>
<circle cx="291.7" cy="274.75" r="1.5" fill="#109a10"/>
<text transform="translate(307.3,279.55) scale(1.135,1)" class="lg">h8C3-<tspan dy="-4" font-size="7.9">213</tspan><tspan dy="4">Bi-PD1</tspan></text>
<line x1="284.4" y1="289.70" x2="299" y2="289.70" stroke="#ff1a1a" stroke-width="1.3"/>
<circle cx="291.7" cy="289.70" r="1.5" fill="#ff1a1a"/>
<text transform="translate(307.3,294.50) scale(1.135,1)" class="lg">h8C3-<tspan dy="-4" font-size="7.9">213</tspan><tspan dy="4">Bi-PD1-h8C3-</tspan><tspan dy="-4" font-size="7.9">213</tspan><tspan dy="4">Bi</tspan></text>
<line x1="284.4" y1="304.65" x2="299" y2="304.65" stroke="#111" stroke-width="1.3"/>
<circle cx="291.7" cy="304.65" r="1.5" fill="#111"/>
<text transform="translate(307.3,309.45) scale(1.135,1)" class="lg">SHAM</text>
<line x1="284.4" y1="319.60" x2="299" y2="319.60" stroke="#b8752b" stroke-width="1.3"/>
<circle cx="291.7" cy="319.60" r="1.5" fill="#b8752b"/>
<text transform="translate(307.3,324.40) scale(1.135,1)" class="lg">PD1</text>
</svg>
</body></html>
